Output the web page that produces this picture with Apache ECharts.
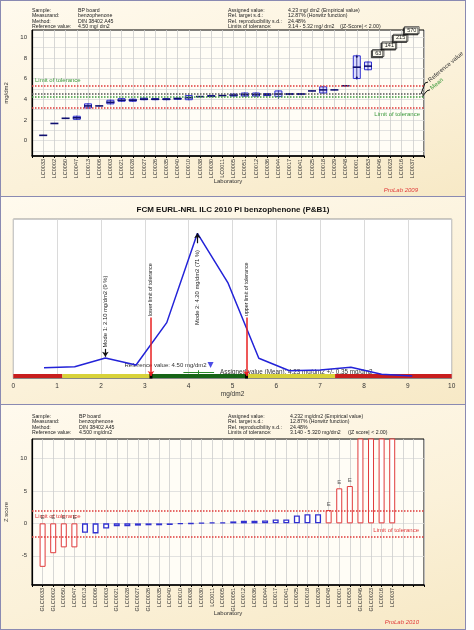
<!DOCTYPE html>
<html>
<head>
<meta charset="utf-8">
<script src="https://cdn.jsdelivr.net/npm/echarts@6/dist/echarts.min.js"></script>
<style>
  html, body { margin: 0; padding: 0; background: #fff; }
  #wrap { position: relative; width: 474px; height: 630px; overflow: hidden; }
  .panel { position: absolute; left: 0; width: 466px; box-sizing: border-box;
    border: 1px solid #8a8ab2; background: linear-gradient(165deg, #fffaee 0%, #fbf1d9 60%, #f7e9c6 100%); }
  #chart { position: absolute; left: 0; top: 0; width: 474px; height: 630px; }
</style>
</head>
<body>
<div id="wrap">
  <div class="panel" style="top:0;height:197px"></div>
  <div class="panel" style="top:196px;height:209px"></div>
  <div class="panel" style="top:404px;height:226px"></div>
  <div id="chart"></div>
</div>
<script>
const FONT = '"Liberation Sans", Arial, sans-serif'

// --- panel 1: results per laboratory (mg/dm2)
const labsTop = ['LC0033','LC0002','LC0050','LC0047','LC0013','LC0006','LC0003','LC0021','LC0028','LC0027','LC0026','LC0035','LC0040','LC0010','LC0038','LC0030','LC0011','LC0005','LC0051','LC0012','LC0036','LC0044','LC0017','LC0041','LC0025','LC0018','LC0029','LC0048','LC0001','LC0053','LC0046','LC0023','LC0016','LC0037']
const boxMedian = [0.50,1.65,2.15,2.20,3.35,3.35,3.70,3.90,3.90,4.00,4.00,4.00,4.05,4.15,4.25,4.30,4.35,4.40,4.45,4.45,4.45,4.50,4.50,4.50,4.80,4.90,4.90,5.30,7.10,7.20,63,141,215,570]
const boxQ1 = [0.50,1.65,2.15,2.05,3.15,3.35,3.55,3.80,3.80,3.95,3.95,3.95,4.00,3.95,4.25,4.25,4.35,4.30,4.30,4.30,4.35,4.25,4.45,4.45,4.80,4.60,4.90,5.30,6.00,6.85,63,141,215,570]
const boxQ3 = [0.50,1.65,2.15,2.35,3.55,3.35,3.90,4.05,4.00,4.10,4.05,4.05,4.10,4.35,4.25,4.35,4.35,4.50,4.60,4.60,4.55,4.80,4.55,4.55,4.80,5.20,4.90,5.30,8.20,7.60,63,141,215,570]
const boxLow = [0.45,1.60,2.10,2.00,3.10,3.30,3.50,3.75,3.75,3.90,3.90,3.90,3.95,3.90,4.20,4.20,4.30,4.25,4.25,4.25,4.30,4.05,4.40,4.40,4.75,4.50,4.85,5.25,5.90,6.80,63,141,215,570]
const boxHigh = [0.55,1.70,2.20,2.40,3.60,3.40,3.95,4.10,4.05,4.15,4.10,4.10,4.15,4.40,4.30,4.40,4.40,4.55,4.65,4.65,4.60,4.85,4.60,4.60,4.85,5.30,4.95,5.35,8.30,7.65,63,141,215,570]

const refValue = 4.50
const assignedValue = 4.23
const assignedU = 0.35
const tolLow = 3.14
const tolHigh = 5.32

// --- panel 2: kernel density of results
const densX = [0.7,1.4,2.1,2.8,3.5,4.2,4.9,5.6,6.3,7.0,7.7,8.4,9.1]
const densY = [0.058,0.065,0.126,0.077,0.374,1.0,0.65,0.124,0.037,0.042,0.061,0.012,0.0]
const modes = [2.10, 4.20]
const modeShares = [9, 71]
const zoneEdges = [0, 1.12, 3.14, 5.32, 7.34, 10]
const zoneColors = ['#c81e1e', '#d8d23a', '#166416', '#d8d23a', '#c81e1e']

// --- panel 3: z scores
const labsZ = ['GLC0033','GLC0002','LC0050','LC0047','LC0013','LC0006','LC0003','GLC0021','LC0028','GLC0027','GLC0026','LC0035','LC0040','LC0010','LC0038','LC0030','LC0011','LC0005','GLC0051','LC0012','LC0036','LC0044','LC0017','LC0041','LC0025','LC0018','LC0029','LC0048','LC0001','LC0053','GLC0046','GLC0023','LC0016','LC0037']
const zScores = [-6.7,-4.6,-3.7,-3.7,-1.45,-1.55,-0.8,-0.45,-0.45,-0.35,-0.3,-0.3,-0.25,-0.1,-0.05,0.1,0.15,0.15,0.3,0.4,0.4,0.45,0.6,0.6,1.2,1.4,1.4,2.05,5.4,5.75,108,251,387,1039]
const eFlags = ['GLC0033','GLC0002','LC0050','LC0047','LC0048','LC0001','LC0053']
const zLimit = 2

const TOP_MIN = -1.5, TOP_MAX = 10.7
const offScale = boxMedian.map((v, i) => v > TOP_MAX ? i : -1).filter(i => i >= 0)

const catAxis = (gridIndex, data, nameGap) => ({
  gridIndex, type: 'category', data, boundaryGap: false,
  axisLine: { onZero: false, lineStyle: { color: '#000', width: 1.5 } },
  axisTick: { show: true, interval: 0, length: 2, lineStyle: { color: '#000' } },
  axisLabel: { interval: 0, rotate: 90, fontSize: 5.5, color: '#333', margin: 3, fontFamily: FONT },
  splitLine: { show: true, interval: 0, lineStyle: { color: '#cdcdcd', width: 0.8 } },
  name: 'Laboratory', nameLocation: 'middle', nameGap, nameMoveOverlap: false,
  nameTextStyle: { fontSize: 6, color: '#333', fontFamily: FONT },
})

function renderBox(params, api) {
  const x = api.value(0)
  const med = api.value(3)
  const cx = api.coord([x, 0])[0]
  if (med > TOP_MAX) {
    const k = offScale.indexOf(params.dataIndex)
    const top = api.coord([x, TOP_MAX])[1]
    const cy = top + 23 - 7.6 * k
    const s = String(med)
    const w = s.length * 3.2 + 5
    return {
      type: 'group',
      children: [
        { type: 'rect', shape: { x: cx - 1 - w / 2, y: cy - 3.5, width: w, height: 7 },
          style: { fill: '#fdfbf0', stroke: '#333', lineWidth: 0.8, shadowColor: 'rgba(0,0,0,0.7)', shadowOffsetX: -1.2, shadowOffsetY: 1.2 } },
        { type: 'text', style: { text: s, x: cx - 1, y: cy, align: 'center', verticalAlign: 'middle', fontSize: 5.5, fontFamily: FONT, fill: '#222' } },
      ],
    }
  }
  const yLo = api.coord([x, api.value(1)])[1]
  const yQ1 = api.coord([x, api.value(2)])[1]
  const yMed = api.coord([x, med])[1]
  const yQ3 = api.coord([x, api.value(4)])[1]
  const yHi = api.coord([x, api.value(5)])[1]
  const w = 7
  const ch = [
    { type: 'line', shape: { x1: cx, y1: yLo, x2: cx, y2: yHi }, style: { stroke: '#1a1a80', lineWidth: 1 } },
  ]
  if (yQ1 - yQ3 > 1) {
    ch.push({ type: 'rect', shape: { x: cx - w / 2, y: yQ3, width: w, height: yQ1 - yQ3 },
      style: { fill: '#dcdcff', stroke: '#3030d0', lineWidth: 1 } })
    ch.push({ type: 'line', shape: { x1: cx, y1: yQ3, x2: cx, y2: yQ1 }, style: { stroke: '#1a1a80', lineWidth: 0.8 } })
  }
  if (yLo - yHi > 12) {
    ch.push({ type: 'circle', shape: { cx, cy: yLo - 2, r: 1 }, style: { fill: '#101060' } })
    ch.push({ type: 'circle', shape: { cx, cy: yHi + 2, r: 1 }, style: { fill: '#101060' } })
  }
  ch.push({ type: 'line', shape: { x1: cx - w / 2 - 0.5, y1: yMed, x2: cx + w / 2 + 0.5, y2: yMed },
    style: { stroke: '#101070', lineWidth: 1.6 } })
  return { type: 'group', children: ch }
}

const dotted = (y, color) => ({ yAxis: y, lineStyle: { color, type: 'dotted', width: 1.5 } })

const option = {
  animation: false,
  textStyle: { fontFamily: FONT },
  grid: [
    { left: 32, top: 30, width: 392, height: 126, show: true, borderColor: '#000', borderWidth: 1, backgroundColor: '#fffdf6', outerBoundsMode: 'none' },
    { left: 13.3, top: 219, width: 438.4, height: 159, show: true, borderColor: '#999', borderWidth: 1, backgroundColor: '#fff', outerBoundsMode: 'none' },
    { left: 32, top: 439, width: 392, height: 146, show: true, borderColor: '#000', borderWidth: 1, backgroundColor: '#fffdf6', outerBoundsMode: 'none' },
  ],
  xAxis: [
    catAxis(0, ['', ...labsTop, ''], 22),
    {
      gridIndex: 1, type: 'value', min: 0, max: 10, interval: 1,
      axisLine: { show: true, onZero: false, lineStyle: { color: '#888' } },
      axisTick: { show: false },
      axisLabel: { fontSize: 6.5, color: '#333', margin: 5, fontFamily: FONT },
      splitLine: { show: true, lineStyle: { color: '#d0d0d0', width: 0.8 } },
      name: 'mg/dm2', nameLocation: 'middle', nameGap: 12,
      nameTextStyle: { fontSize: 6.5, color: '#333', fontFamily: FONT },
    },
    catAxis(2, ['', ...labsZ, '', '', ''], 25),
  ],
  yAxis: [
    {
      gridIndex: 0, type: 'value', min: TOP_MIN, max: TOP_MAX,
      axisLine: { show: true, lineStyle: { color: '#000', width: 1.2 } },
      axisTick: { show: false, customValues: [-1,0,1,2,3,4,5,6,7,8,9,10] },
      axisLabel: { customValues: [0,2,4,6,8,10], fontSize: 6, color: '#333', margin: 5, fontFamily: FONT },
      splitLine: { show: true, lineStyle: { color: '#dadada', width: 0.8 } },
      name: 'mg/dm2', nameLocation: 'middle', nameGap: 13, nameRotate: 90,
      nameTextStyle: { fontSize: 6, color: '#333', fontFamily: FONT },
    },
    { gridIndex: 1, type: 'value', min: -0.014, max: 1.1, show: false },
    {
      gridIndex: 2, type: 'value', min: -9.5, max: 13,
      axisLine: { show: true, lineStyle: { color: '#000', width: 1.2 } },
      axisTick: { show: false, customValues: [-5, 0, 5, 10] },
      axisLabel: { customValues: [-5, 0, 5, 10], fontSize: 6, color: '#333', margin: 5, fontFamily: FONT },
      splitLine: { show: true, lineStyle: { color: '#dadada', width: 0.8 } },
      name: 'Z score', nameLocation: 'middle', nameGap: 13, nameRotate: 90,
      nameTextStyle: { fontSize: 6, color: '#333', fontFamily: FONT },
    },
  ],
  series: [
    {
      type: 'custom', xAxisIndex: 0, yAxisIndex: 0, clip: false,
      renderItem: renderBox,
      encode: { x: 0, y: 3 },
      data: labsTop.map((_, i) => [i + 1, boxLow[i], boxQ1[i], boxMedian[i], boxQ3[i], boxHigh[i]]),
    },
    {
      type: 'line', xAxisIndex: 0, yAxisIndex: 0, data: [],
      markLine: {
        silent: true, symbol: ['none', 'none'], label: { show: false },
        data: [
          dotted(tolHigh, '#e03a3a'), dotted(tolLow, '#e03a3a'),
          dotted(refValue, '#555'), dotted(assignedValue, '#3c9a3c'),
        ],
      },
    },
    {
      type: 'line', xAxisIndex: 1, yAxisIndex: 1,
      data: densX.map((x, i) => [x, densY[i]]),
      showSymbol: false, symbol: 'none',
      lineStyle: { color: '#2323d8', width: 1.5 },
      z: 3,
      markLine: {
        silent: true, symbol: ['none', 'arrow'], symbolSize: 5, label: { show: false },
        data: [
          [{ coord: [tolLow, 0.41], lineStyle: { color: '#e82020', width: 1.5, type: 'solid' } }, { coord: [tolLow, 0] }],
          [{ coord: [tolHigh, 0.41], lineStyle: { color: '#e82020', width: 1.5, type: 'solid' } }, { coord: [tolHigh, 0] }],
          [{ coord: [modes[0], 0.19], lineStyle: { color: '#111', width: 1.2, type: 'solid' } }, { coord: [modes[0], 0.135] }],
          [{ coord: [modes[1], 0.93], lineStyle: { color: '#111', width: 1.2, type: 'solid' } }, { coord: [modes[1], 1.0] }],
          [{ coord: [assignedValue - assignedU, 0.026], symbol: 'none', lineStyle: { color: '#2a8a2a', width: 1, type: 'solid' } }, { coord: [assignedValue + assignedU, 0.026], symbol: 'none' }],
          [{ coord: [assignedValue, 0.012], symbol: 'none', lineStyle: { color: '#2a8a2a', width: 1, type: 'solid' } }, { coord: [assignedValue, 0.04], symbol: 'none' }],
        ],
      },
    },
    {
      type: 'custom', xAxisIndex: 1, yAxisIndex: 1, clip: false, z: 2,
      encode: { x: [0, 1] },
      data: zoneColors.map((_, i) => [zoneEdges[i], zoneEdges[i + 1]]),
      renderItem(params, api) {
        const a = api.coord([api.value(0), 0])
        const b = api.coord([api.value(1), 0])
        return { type: 'rect', shape: { x: a[0], y: a[1] - 2, width: b[0] - a[0], height: 4 },
          style: { fill: zoneColors[params.dataIndex] } }
      },
    },
    {
      type: 'custom', xAxisIndex: 1, yAxisIndex: 1, clip: false, z: 2,
      encode: { x: 0 },
      data: [[tolLow], [tolHigh]],
      renderItem(params, api) {
        const a = api.coord([api.value(0), 0])
        return { type: 'rect', shape: { x: a[0] - 1.5, y: a[1] - 2.5, width: 3, height: 5 }, style: { fill: '#000' } }
      },
    },
    {
      type: 'scatter', xAxisIndex: 1, yAxisIndex: 1, z: 4,
      symbol: 'triangle', symbolRotate: 180, symbolSize: 6,
      itemStyle: { color: '#2020e0' },
      data: [[refValue, 0.077]],
    },
    {
      type: 'bar', xAxisIndex: 2, yAxisIndex: 2, barWidth: 6,
      data: [null, ...zScores.map(z => ({
        value: z,
        itemStyle: { color: '#ffffff', borderColor: Math.abs(z) > zLimit ? '#e03a3a' : '#3030d0', borderWidth: Math.abs(z) > zLimit ? 1 : 1.3 },
      })), null, null, null],
      markLine: {
        silent: true, symbol: ['none', 'none'], label: { show: false },
        data: [dotted(zLimit, '#e03a3a'), dotted(-zLimit, '#e03a3a')],
      },
    },
    {
      type: 'scatter', xAxisIndex: 2, yAxisIndex: 2, symbolSize: 0,
      label: { show: true, position: 'top', distance: 3, formatter: 'E', fontSize: 6, color: '#333', fontFamily: FONT },
      data: eFlags.map(l => { const i = labsZ.indexOf(l); return [i + 1, Math.max(zScores[i], 0)] }),
    },
  ],
}

const chart = echarts.init(document.getElementById('chart'), null, { renderer: 'canvas' })
chart.setOption(option)

// annotations placed from the axes' own scales
const P1 = v => chart.convertToPixel({ gridIndex: 0 }, v)
const P2 = v => chart.convertToPixel({ gridIndex: 1 }, v)

const txt = (x, y, s, o = {}) => ({ type: 'text', x, y, silent: true,
  style: Object.assign({ text: s, fontSize: 5.2, fontFamily: FONT, fill: '#222', verticalAlign: 'middle' }, o) })
const vtxt = (pt, s, o = {}) => ({ type: 'text', x: pt[0], y: pt[1], rotation: Math.PI / 2, silent: true,
  style: Object.assign({ text: s, fontSize: 5.8, fontFamily: FONT, fill: '#222', align: 'left', verticalAlign: 'middle' }, o) })

function header(y0, left, right, extra, xv, xr, xe) {
  const out = []
  const ll = ['Sample:', 'Measurand:', 'Method:', 'Reference value:']
  const rl = ['Assigned value:', 'Rel. target s.d.:', 'Rel. reproducibility s.d.:', 'Limits of tolerance:']
  for (let i = 0; i < 4; i++) {
    const y = y0 + i * 5.3
    out.push(txt(32, y, ll[i]), txt(xv, y, left[i]), txt(228, y, rl[i]), txt(xr, y, right[i]))
  }
  out.push(txt(xe, y0 + 3 * 5.3, extra))
  return out
}

const yRef = P1([35, refValue])[1]
const yMean = P1([35, assignedValue])[1]
const xEdge = P1([35, 0])[0]

const graphics = [
  ...header(10.5, ['BP board', 'benzophenone', 'DIN 38402 A45', '4.50 mg/ dm2'],
    ['4.23 mg/ dm2 (Empirical value)', '12.87% (Horwitz function)', '24.48%', '3.14 - 5.32 mg/ dm2'],
    '(|Z-Score| < 2.00)', 78, 288, 340),
  txt(35, P1([0, tolHigh])[1] - 5, 'Limit of tolerance', { fill: '#3c9a3c', fontSize: 6 }),
  txt(xEdge - 4, P1([0, tolLow])[1] + 6, 'Limit of tolerance', { fill: '#3c9a3c', fontSize: 6, align: 'right' }),
  { type: 'polyline', silent: true, shape: { points: [[xEdge - 3, yRef], [xEdge + 1, yRef - 11], [xEdge + 4, yRef - 12]] }, style: { stroke: '#111', lineWidth: 1, fill: null } },
  { type: 'polyline', silent: true, shape: { points: [[xEdge - 2, yMean], [xEdge + 3, yMean - 6], [xEdge + 6, yMean - 7]] }, style: { stroke: '#111', lineWidth: 1, fill: null } },
  { type: 'text', silent: true, x: xEdge + 5, y: yRef - 13, rotation: 40 * Math.PI / 180,
    style: { text: 'Reference value', fontSize: 6, fontFamily: FONT, fill: '#333', align: 'left', verticalAlign: 'middle' } },
  { type: 'text', silent: true, x: xEdge + 7, y: yMean - 8, rotation: 40 * Math.PI / 180,
    style: { text: 'Mean', fontSize: 6, fontFamily: FONT, fill: '#3c9a3c', align: 'left', verticalAlign: 'middle' } },
  txt(418, 190, 'ProLab 2009', { fill: '#e03a3a', fontStyle: 'italic', fontSize: 6, align: 'right' }),

  txt(233, 210, 'FCM EURL-NRL ILC 2010 PI benzophenone (P&B1)', { fontSize: 8, fontWeight: 'bold', fill: '#111', align: 'center' }),
  vtxt(P2([modes[0], 0.2]), `Mode 1: ${modes[0].toFixed(2)} mg/dm2 (${modeShares[0]} %)`),
  vtxt(P2([modes[1], 0.357]), `Mode 2: ${modes[1].toFixed(2)} mg/dm2 (${modeShares[1]} %)`),
  vtxt(P2([tolLow, 0.42]), 'lower limit of tolerance', { fontSize: 5.3 }),
  vtxt(P2([tolHigh, 0.42]), 'upper limit of tolerance', { fontSize: 5.3 }),
  txt(P2([refValue, 0])[0] - 4, P2([0, 0.077])[1], `Reference value: ${refValue.toFixed(2)} mg/dm2`, { fontSize: 6, fill: '#333', align: 'right' }),
  txt(P2([assignedValue + assignedU, 0])[0] + 6, P2([0, 0.028])[1],
    `Assigned value (Mean): ${assignedValue.toFixed(2)} mg/dm2 +/- ${assignedU.toFixed(2)} mg/dm2`, { fontSize: 6.3, fill: '#333' }),

  ...header(416.5, ['BP board', 'benzophenone', 'DIN 38402 A45', '4.500 mg/dm2'],
    ['4.232 mg/dm2 (Empirical value)', '12.87% (Horwitz function)', '24.48%', '3.140 - 5.320 mg/dm2'],
    '(|Z score| < 2.00)', 79, 290, 348),
  txt(35, 516, 'Limit of tolerance', { fill: '#e03a3a', fontSize: 6 }),
  txt(419, 530, 'Limit of tolerance', { fill: '#e03a3a', fontSize: 6, align: 'right' }),
  txt(419, 622, 'ProLab 2010', { fill: '#e03a3a', fontStyle: 'italic', fontSize: 6, align: 'right' }),
]

chart.setOption({ graphic: graphics })
</script>
</body>
</html>
